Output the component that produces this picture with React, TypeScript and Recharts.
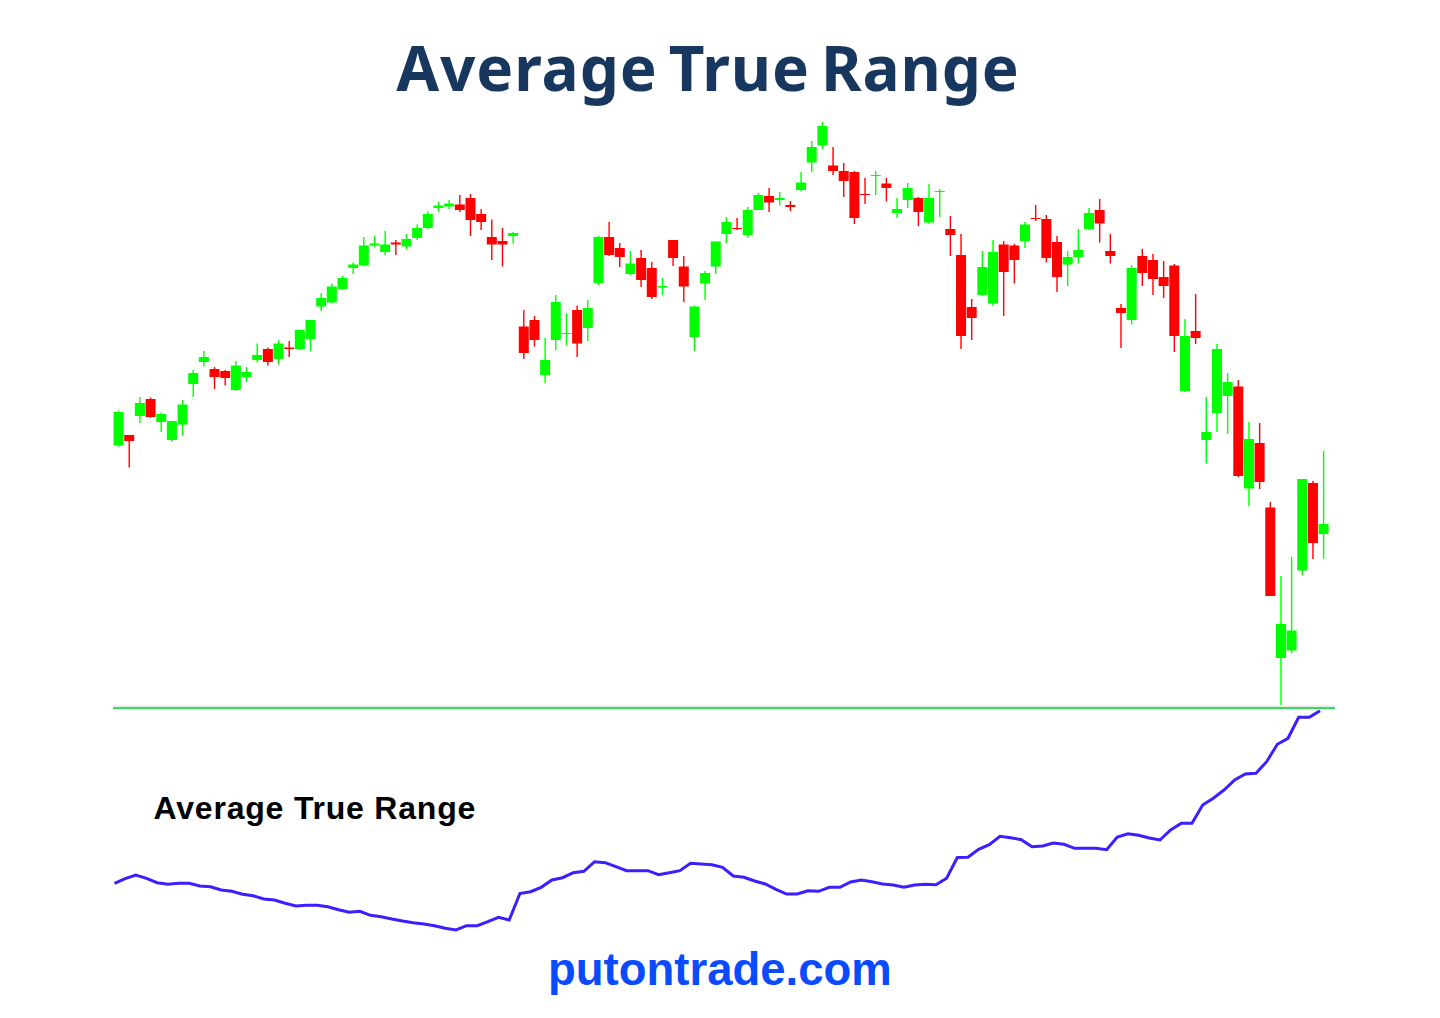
import { Bar, ComposedChart, Line, LineChart, ReferenceLine, XAxis, YAxis } from "recharts"

const opens = [
  262.5, 273, 292, 309, 286, 268, 283.5, 324, 346, 339, 337, 318, 331, 348, 359, 349, 360.5, 359, 369, 401.5,
  405.5, 419, 440, 442.5, 462.5, 456, 465.5, 461.5, 470, 480, 500, 501.5, 503.5, 510, 494, 471, 467, 472,
  381.5, 388, 333, 368, 374, 398, 380, 425, 471, 460, 434, 450, 440, 420.5, 468, 441.5, 371, 424.5, 441.5, 474,
  480, 473, 498, 512, 508, 503, 518, 545.5, 562.5, 542.5, 537, 536, 514, 532, 524.5, 495, 508, 510, 485.5, 516,
  479, 453, 401, 413, 404.5, 463.5, 462.5, 467, 490, 489, 466, 443.5, 451, 479, 498, 457, 400, 388, 452, 448,
  431, 442.5, 317, 377, 268, 295, 312, 321.5, 219.5, 265, 200.5, 50, 57.5, 137.5, 225, 174,
]
const closes = [
  296, 267, 305, 291, 294, 287, 303.5, 335, 351, 331, 330, 342.5, 336, 353, 346, 364.5, 359, 378, 388, 410,
  421.5, 430, 443.5, 462.5, 464.5, 463.5, 463.5, 469, 480, 494, 502.5, 504.5, 498, 488, 486, 463.5, 463.5, 475,
  355, 368, 348, 406, 375, 364.5, 400, 471, 453, 451, 444.5, 428, 411, 422, 450, 421.5, 401.5, 435, 466.5, 486,
  479, 498, 513, 505.5, 510, 501, 525.5, 561, 582, 537, 527, 490, 513, 533, 520, 499, 520, 496, 510, 517,
  473, 372, 390, 441, 456, 436, 448, 483.5, 489, 450, 431, 451, 458, 495, 484.5, 452, 395, 440, 435, 429,
  422, 372, 372, 370, 276, 359, 326, 232, 269, 226, 112, 84, 77.5, 229, 165, 184,
]
const highs = [
  297.5, 273, 311, 310.5, 295.5, 287, 308, 338, 357, 341, 338, 347, 341, 364.5, 360.5, 368, 367, 378, 388, 415,
  424.5, 432, 445.5, 471, 472, 477, 468, 474, 483.5, 496.5, 506.5, 508, 513, 514, 499, 488.5, 480, 476,
  398, 392, 370, 413, 395, 402.5, 408, 472, 486, 465, 457, 458, 446, 430, 468, 452, 402.5, 437, 466.5, 491,
  490, 501, 515, 520, 516, 507, 536, 567, 586, 561, 545, 537, 530, 537, 530, 510, 525, 511, 524, 519,
  492, 474, 409, 457, 468, 467, 464, 486, 503, 493, 472, 457, 479, 500, 509, 474, 404, 443, 459, 454,
  447, 444, 389, 414, 311, 364, 335, 328, 286, 285, 206, 132, 151, 229, 227, 257,
]
const lows = [
  261.5, 240.5, 285, 290, 276, 266, 272, 311, 341.5, 319, 322.5, 317, 326, 345.5, 342.5, 343.5, 351, 358, 357, 397,
  404.5, 418, 434, 441.5, 460.5, 453, 453, 458.5, 468, 479, 496, 499, 496, 472, 478, 448, 441.5, 464.5,
  349, 361.5, 325, 358, 362.5, 351, 367, 423, 452, 441, 433, 421, 409, 413, 442, 406, 357, 408, 434, 464.5,
  478, 470, 498, 496, 503, 497, 517, 536, 559, 533, 511, 484, 504, 513, 506.5, 490, 500, 482, 484, 491,
  452, 359, 368, 412, 402, 392, 424.5, 460, 487, 445.5, 416, 422, 444.5, 478, 465.5, 444.5, 360, 383.5, 422, 413,
  410, 356, 316, 364, 244.5, 276, 274, 231, 202, 219, 112, 3, 55, 133, 149, 149,
]
const atrValues = [
  56.7, 61.3, 65, 61.7, 57.3, 55.7, 56.7, 56.7, 54, 53.3, 50, 48.7, 45.7, 44.3, 41, 40, 36.7, 34, 34.7, 34.7,
  33.3, 30.3, 27.7, 28.7, 24.7, 23.3, 21, 19, 17.3, 16, 14.3, 11.7, 10, 14.3, 14.3, 18.3, 22.7, 20,
  46.5, 48.3, 52.7, 60, 62.3, 67.3, 68.7, 78.3, 77.3, 73.3, 69.3, 69.3, 69.3, 65.3, 67.3, 69.3, 76.7, 76, 75.3, 72.7,
  64, 62.7, 59, 56, 50.7, 46, 46, 49.3, 48.7, 52.7, 52.7, 58, 60, 58.3, 56, 55, 52.7, 55, 55.7, 55.3,
  61.7, 82.5, 82.7, 90.7, 95.3, 103.7, 102.3, 100.3, 93.3, 94, 97, 95.7, 91.7, 91.7, 91.7, 90.3, 103, 106.3, 104.7, 102,
  100, 110, 116.7, 116.7, 135, 141.7, 150, 160, 166, 166.7, 178.3, 195.7, 201.7, 222.7, 222.7, 229.3,
]

const candles = opens.map((open, i) => ({
  idx: i,
  open,
  close: closes[i],
  high: highs[i],
  low: lows[i],
  atr: atrValues[i],
}))

// wick and body both come from the bar recharts scaled for [low, high]
function Candle(props: any) {
  const { x, y, width, height, payload } = props
  const k = height / (payload.high - payload.low)
  const up = payload.close >= payload.open
  const color = up ? "#00ff00" : "#ff0000"
  const top = y + (payload.high - Math.max(payload.open, payload.close)) * k
  const bodyH = Math.max(Math.abs(payload.close - payload.open) * k, 1)
  const cx = x + width / 2
  return (
    <g>
      <line x1={cx} x2={cx} y1={y} y2={y + height} stroke={color} strokeWidth={1.4} />
      <rect x={cx - 5} y={top} width={10} height={bodyH} fill={color} />
    </g>
  )
}

const labelBase = { position: "absolute", whiteSpace: "nowrap", lineHeight: 1 } as const

export default function App() {
  return (
    <div style={{ position: "absolute", left: 0, top: 0, width: 1440, height: 1018, background: "#fff", overflow: "hidden" }}>
      <div style={{ position: "absolute", left: 0, top: 0 }}>
        <ComposedChart
          width={1440}
          height={1018}
          data={candles}
          margin={{ top: 108, bottom: 310, left: 113, right: 105 }}
        >
          <XAxis dataKey="idx" hide padding={{ left: 0, right: 6.3 }} />
          <YAxis hide domain={[0, 600]} />
          <ReferenceLine y={1.6} stroke="#eeeeee" strokeWidth={3} />
          <ReferenceLine y={0} stroke="#2ee052" strokeWidth={1.8} />
          <Bar
            dataKey={(d: any) => [d.low, d.high]}
            shape={Candle}
            isAnimationActive={false}
          />
        </ComposedChart>
      </div>
      <div style={{ position: "absolute", left: 0, top: 0 }}>
        <LineChart
          width={1440}
          height={1018}
          data={candles}
          margin={{ top: 700, bottom: 78, left: 114.5, right: 120 }}
        >
          <XAxis dataKey="idx" hide />
          <YAxis hide domain={[0, 240]} />
          <Line
            dataKey="atr"
            type="linear"
            stroke="#3a1fff"
            strokeWidth={3}
            dot={false}
            isAnimationActive={false}
          />
        </LineChart>
      </div>
      <div
        style={{
          ...labelBase,
          left: 0,
          width: 1416,
          top: 36,
          textAlign: "center",
          fontFamily: "'Noto Sans'",
          fontWeight: 700,
          fontSize: 62,
          color: "#18375f",
          letterSpacing: 0.9,
          wordSpacing: -6,
        }}
      >
        Average True Range
      </div>
      <div
        style={{
          ...labelBase,
          left: 153.5,
          top: 792,
          fontFamily: "'Liberation Sans'",
          fontWeight: 700,
          fontSize: 32,
          letterSpacing: 0.8,
          color: "#000",
        }}
      >
        Average True Range
      </div>
      <div
        style={{
          ...labelBase,
          left: 548,
          top: 947,
          fontFamily: "'Liberation Sans'",
          fontWeight: 700,
          fontSize: 45.5,
          color: "#0a4bff",
        }}
      >
        putontrade.com
      </div>
    </div>
  )
}
